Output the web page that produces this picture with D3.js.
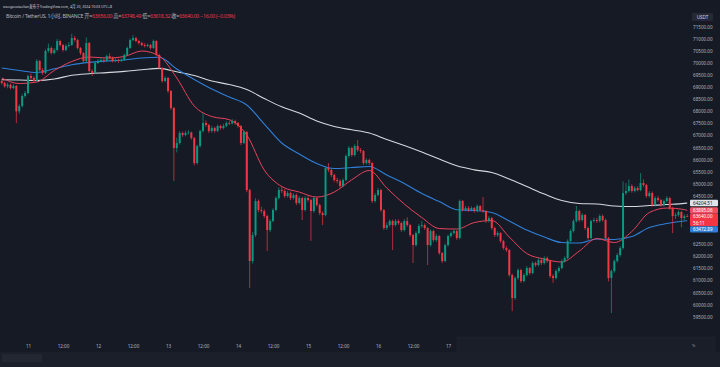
<!DOCTYPE html>
<html>
<head>
<meta charset="utf-8">
<script src="https://cdn.jsdelivr.net/npm/d3@7"></script>
<style>
  body { margin: 0; background: #161a25; }
  svg { display: block; font-family: "Noto Sans", "Noto Sans CJK SC", sans-serif; }
</style>
</head>
<body>
<div id="chart"></div>
<script>
// hourly BTC/USDT candles, first bar Apr 10 15:00 (UTC+8), open = previous close
var startTime = Date.UTC(2024, 3, 10, 15);
var openFirst = 69250;
var closes = [
  69170, 69033, 69099, 68963, 69046, 67998, 68218, 68632, 68756, 69459,
  69377, 69253, 70080, 69708, 69584, 70494, 70618, 70411, 70536, 70908,
  70743, 70536, 70701, 70743, 71032, 70950, 70618, 70411, 70080, 70825,
  69666, 69584, 69998, 70080, 70122, 70080, 70287, 70204, 70080, 70122,
  70080, 70122, 70329, 70618, 70950, 71032, 70908, 70825, 70743, 70701,
  70743, 70618, 70908, 70329, 69791, 69253, 69377, 68839, 68135, 66479,
  66686, 67100, 67017, 67100, 67120, 66893, 65858, 66562, 67183, 67514,
  67431, 67183, 67307, 67183, 67390, 67307, 67390, 67514, 67500, 67597,
  67514, 67390, 66686, 67142, 64741, 61802, 62878, 64286, 63913, 63872,
  63665, 63085, 63458, 63913, 64410, 64741, 64700, 64493, 64617, 64410,
  64534, 64203, 64410, 63913, 64410, 64327, 63872, 64410, 64120, 63789,
  63706, 65652, 65569, 65362, 65155, 65113, 64907, 65155, 66148, 66479,
  66190, 66562, 66397, 66355, 65858, 65983, 65858, 64286, 64534, 64741,
  63913, 63168, 63292, 63458, 63292, 63458, 63375, 63085, 63458, 63292,
  62878, 62464, 62961, 63251, 63292, 63168, 62464, 63044, 62671, 62837,
  62133, 61802, 62464, 62837, 62961, 63044, 62754, 64286, 63913, 63996,
  63913, 63996, 63872, 64079, 63913, 63872, 63458, 63582, 63168, 62878,
  62961, 62630, 62340, 62258, 61223, 60271, 61099, 61430, 60975, 61223,
  61513, 61306, 61719, 61637, 61844, 61719, 61926, 61802, 61181, 61099,
  61388, 61513, 61802, 61926, 62630, 63044, 63458, 63872, 63499, 63706,
  63168, 62754, 63458, 63499, 63458, 63665, 63499, 62754, 61099, 61388,
  61802, 62051, 62340, 64617, 64700, 64907, 64700, 64824, 64741, 65031,
  64948, 64493, 64617, 64120, 64410, 64327, 64120, 64286, 64410, 63996,
  63665, 63706, 63830, 63582, 63656, 63640
];
var highs = [
  69330, 69220, 69180, 69150, 69120, 69090, 68290, 68700, 68840, 69520,
  69560, 69450, 70160, 70120, 69790, 70560, 70800, 70680, 70620, 71000,
  70960, 70790, 70780, 70860, 71210, 71120, 71000, 70660, 70450, 71060,
  70870, 69740, 70080, 70160, 70230, 70190, 70350, 70400, 70260, 70200,
  70180, 70190, 70390, 70680, 71020, 71150, 71080, 70960, 70880, 70820,
  70800, 70790, 70970, 70940, 70380, 69840, 69460, 69420, 68880, 68180,
  66900, 67180, 67160, 67190, 67220, 67160, 66940, 66620, 67240, 67920,
  67620, 67480, 67400, 67360, 67450, 67440, 67480, 67580, 67600, 67680,
  67650, 67560, 67430, 67220, 67190, 64800, 63000, 64400, 64350, 64050,
  63950, 63720, 63540, 63990, 64480, 64850, 64900, 64780, 64700, 64680,
  64610, 64600, 64490, 64460, 64480, 64500, 64380, 64490, 64460, 64180,
  63860, 65720, 65860, 65640, 65420, 65250, 65180, 65220, 66220, 66560,
  66530, 66640, 66810, 66480, 66400, 66060, 66040, 65900, 64620, 64820,
  64790, 63960, 63400, 63530, 63520, 63540, 63520, 63430, 63540, 63620,
  63340, 62920, 63030, 63340, 63460, 63360, 63210, 63120, 63100, 62920,
  62880, 62180, 62530, 62900, 63030, 63120, 63090, 64350, 64330, 64080,
  64070, 64070, 64040, 64150, 64120, 64450, 63920, 63660, 63630, 63220,
  63040, 63000, 62680, 62420, 62300, 61280, 61170, 61500, 61480, 61300,
  61600, 61560, 61790, 61780, 61920, 61900, 62000, 61990, 61850, 61260,
  61460, 61590, 61870, 62000, 62700, 63120, 63530, 64080, 63930, 63780,
  63750, 63220, 63520, 63600, 63580, 63740, 63730, 63560, 62800, 61460,
  61870, 62130, 62420, 65100, 65030, 65180, 64980, 64900, 64900, 65440,
  65180, 65000, 64700, 64680, 64480, 64500, 64380, 64350, 64490, 64460,
  64050, 63800, 63900, 63880, 63740, 63748.49
];
var lows = [
  69100, 68980, 68950, 68900, 68920, 67510, 67900, 68150, 68560, 68700,
  69300, 69180, 69200, 69650, 69500, 69540, 70420, 70350, 70360, 70480,
  70680, 70470, 70480, 70640, 70700, 70880, 70560, 70330, 70000, 70020,
  69600, 69460, 69540, 69950, 70020, 70010, 70040, 70150, 70020, 70030,
  70000, 70040, 70080, 70290, 70580, 70900, 70850, 70760, 70690, 70640,
  70650, 70560, 70580, 70270, 69720, 69180, 69200, 68760, 68060, 65110,
  66300, 66620, 66940, 66960, 67040, 66820, 65760, 65800, 66500, 67120,
  67360, 67100, 67120, 67110, 67140, 67240, 67250, 67340, 67430, 67450,
  67440, 67320, 66600, 66640, 64650, 60680, 61700, 62800, 63820, 63780,
  63580, 62220, 63000, 63400, 63860, 64350, 64620, 64420, 64430, 64330,
  64350, 64120, 64150, 63500, 63860, 64250, 62640, 63800, 64050, 63700,
  63290, 63650, 65480, 65280, 65080, 65020, 64830, 64850, 65100, 66080,
  66120, 66130, 66320, 66270, 65780, 65800, 65780, 64200, 64220, 64480,
  63840, 63090, 63090, 63220, 62260, 63230, 63300, 63010, 63020, 63220,
  62800, 61720, 62400, 62900, 63180, 63090, 61640, 62400, 62590, 62600,
  62060, 61720, 61750, 62400, 62780, 62900, 62680, 62700, 63850, 63860,
  63840, 63860, 63800, 63820, 63850, 63800, 63380, 63400, 63100, 62800,
  62800, 62560, 62270, 62180, 61150, 59730, 60200, 61030, 60900, 60920,
  61160, 61230, 61250, 61560, 61580, 61640, 61660, 61730, 61100, 60900,
  61040, 61320, 61460, 61750, 61880, 62570, 62980, 63400, 63430, 63440,
  63090, 62680, 62700, 63400, 63380, 63400, 63430, 62680, 60960, 59650,
  61320, 61740, 61980, 62280, 64540, 64640, 64630, 64640, 64680, 64690,
  64870, 64420, 64430, 64050, 64060, 64250, 64040, 64060, 64220, 63920,
  62960, 63540, 63640, 63200, 63500, 63618.32
];

// moving averages read every 6 bars, plus the last bar
var maStep = 6;
var maWhite = [69306, 69294, 69273, 69335, 69488, 69555, 69600, 69650, 69716, 69774,
  69633, 69480, 69252, 69108, 68901, 68528, 68185, 67928, 67597, 67369,
  67233, 67100, 66831, 66583, 66314, 66024, 65743, 65577, 65465, 65196,
  64886, 64575, 64306, 64182, 64162, 64079, 64058, 64100, 64141, 64190, 64204.51];
var maBlue = [69791, 69687, 69604, 69757, 69923, 70022, 70080, 70122, 70204, 70233,
  69749, 69315, 68921, 68590, 68259, 67473, 66686, 66231, 65838, 65631,
  65672, 65714, 65362, 65010, 64596, 64265, 63926, 63892, 63810, 63458,
  63085, 62796, 62568, 62547, 62713, 62692, 62816, 63189, 63354, 63462, 63472.89];
var maRed = [69377, 69149, 69211, 69687, 70060, 70246, 70204, 70267, 70494, 70287,
  69377, 68218, 67783, 67651, 67017, 65569, 64886, 64658, 64451, 64658,
  65167, 65548, 64824, 64162, 63603, 63147, 63127, 63396, 63479, 62796,
  62113, 61885, 61761, 62216, 62734, 62568, 63023, 63810, 63996, 63934, 63895.06];

var yTicks = [59500, 60000, 60500, 61000, 61500, 62000, 62500, 63000, 63500, 64000, 64500,
  65000, 65500, 66000, 66500, 67000, 67500, 68000, 68500, 69000, 69500, 70000, 70500, 71000, 71500];
var xTickHours = [0, 12, 24, 36, 48, 60, 72, 84, 96, 108, 120, 132, 144]; // from Apr 11 00:00
var xTickLabels = ["11", "12:00", "12", "12:00", "13", "12:00", "14", "12:00", "15", "12:00", "16", "12:00", "17"];

var headerTitle = "xiaoguoxiaolian发布于TradingView.com, 4月 20, 2024 10:03 UTC+8";
var symbolText = "Bitcoin / TetherUS, 1小时, BINANCE";
var ohlcLabels = ["开", "高", "低", "收"];
var ohlcValues = ["63656.00", "63748.49", "63618.32", "63640.00"];
var changeText = "−16.00 (−0.03%)";
var countdown = "56:11";

var W = 720, H = 367, plotRight = 690;
var up = "#089981", down = "#f23645";
var hour = 3600000;

var svg = d3.select("#chart").append("svg").attr("width", W).attr("height", H);
svg.append("rect").attr("width", W).attr("height", H).attr("fill", "#161a25");

var x = d3.scaleUtc()
  .domain([Date.UTC(2024, 3, 10, 14, 24), Date.UTC(2024, 3, 20, 10, 57)])
  .range([0, plotRight]);
var y = d3.scaleLinear().domain([59500, 71500]).range([316.7, 26.7]);

var candles = closes.map(function(c, i) {
  return { t: new Date(startTime + i * hour), o: i ? closes[i - 1] : openFirst, h: highs[i], l: lows[i], c: c };
});

// moving averages
function maPoints(vals) {
  return vals.map(function(v, k) {
    var idx = k < vals.length - 1 ? k * maStep : closes.length - 1;
    return { t: new Date(startTime + idx * hour), v: v };
  });
}
var line = d3.line().x(function(d) { return x(d.t); }).y(function(d) { return y(d.v); })
  .curve(d3.curveMonotoneX);
var mas = [
  { vals: maWhite, color: "#d6d8de", w: 1.1 },
  { vals: maBlue, color: "#2f7fd8", w: 1.1 },
  { vals: maRed, color: "#e8435c", w: 1 }
];
svg.selectAll("path.ma").data(mas).enter().append("path")
  .attr("class", "ma")
  .attr("d", function(d) { return line(maPoints(d.vals)); })
  .attr("fill", "none")
  .attr("stroke", function(d) { return d.color; })
  .attr("stroke-width", function(d) { return d.w; });

// candles
var cg = svg.append("g");
cg.selectAll("line").data(candles).enter().append("line")
  .attr("x1", function(d) { return x(d.t); })
  .attr("x2", function(d) { return x(d.t); })
  .attr("y1", function(d) { return y(d.h); })
  .attr("y2", function(d) { return y(d.l); })
  .attr("stroke", function(d) { return d.c >= d.o ? up : down; })
  .attr("stroke-width", 0.7);
cg.selectAll("rect").data(candles).enter().append("rect")
  .attr("x", function(d) { return x(d.t) - 1; })
  .attr("width", 2)
  .attr("y", function(d) { return y(Math.max(d.o, d.c)); })
  .attr("height", function(d) { return Math.max(0.7, Math.abs(y(d.o) - y(d.c))); })
  .attr("fill", function(d) { return d.c >= d.o ? up : down; });

// price tags on the right
var tags = [
  { v: maWhite[maWhite.length - 1], bg: "#e0e3eb", fg: "#131722" },
  { v: maRed[maRed.length - 1], bg: "#ee4d63", fg: "#ffffff" },
  { v: closes[closes.length - 1], bg: "#f23645", fg: "#ffffff", extra: countdown },
  { v: maBlue[maBlue.length - 1], bg: "#2f7fd8", fg: "#ffffff" }
];
var tagH = 6.3, prev = -1e9;
tags.forEach(function(t) {
  t.cy = Math.max(y(t.v), prev);
  t.h = t.extra ? tagH * 2 : tagH;
  prev = t.cy + t.h;
});

// y axis labels
var yAxis = d3.axisRight(y).tickValues(yTicks.filter(function(v) {
  return tags.every(function(t) { return y(v) < t.cy - tagH * 0.5 - 2 || y(v) > t.cy + t.h - tagH * 0.5 + 2; });
})).tickFormat(d3.format(".2f")).tickSize(0).tickPadding(3);
var ya = svg.append("g").attr("transform", "translate(" + plotRight + ",0)").call(yAxis);
ya.select(".domain").remove();
ya.selectAll("text").attr("fill", "#b2b5be").attr("font-size", 4.6).attr("font-family", "Noto Sans, sans-serif");

var tg = svg.append("g").selectAll("g").data(tags).enter().append("g");
tg.append("rect")
  .attr("x", plotRight).attr("width", 28)
  .attr("y", function(d) { return d.cy - tagH / 2; })
  .attr("height", function(d) { return d.h; })
  .attr("rx", 1)
  .attr("fill", function(d) { return d.bg; });
tg.append("text")
  .attr("x", plotRight + 3).attr("y", function(d) { return d.cy + 1.6; })
  .attr("font-size", 4.6).attr("fill", function(d) { return d.fg; })
  .text(function(d) { return d3.format(".2f")(d.v); });
tg.filter(function(d) { return d.extra; }).append("text")
  .attr("x", plotRight + 3).attr("y", function(d) { return d.cy + tagH + 1.6; })
  .attr("font-size", 4.6).attr("fill", "#ffffff")
  .text(function(d) { return d.extra; });

// currency box
svg.append("rect").attr("x", 692).attr("y", 13).attr("width", 21).attr("height", 8).attr("rx", 1).attr("fill", "#252935");
svg.append("text").attr("x", 702.5).attr("y", 18.8).attr("text-anchor", "middle")
  .attr("font-size", 4.6).attr("fill", "#d1d4dc").text("USDT");

// x axis
var base = Date.UTC(2024, 3, 11);
var xAxis = d3.axisBottom(x)
  .tickValues(xTickHours.map(function(h) { return new Date(base + h * hour); }))
  .tickFormat(function(d, i) { return xTickLabels[i]; })
  .tickSize(0).tickPadding(0);
var xa = svg.append("g").attr("transform", "translate(0,345)").call(xAxis);
xa.select(".domain").remove();
xa.selectAll("text").attr("fill", "#b2b5be").attr("font-size", 4.6).attr("font-family", "Noto Sans, sans-serif");

// covered part of the time scale and bottom bar
svg.append("rect").attr("x", 457).attr("y", 337).attr("width", 258).attr("height", 15)
  .attr("fill", "#1a1e29").attr("stroke", "#20242f").attr("stroke-width", 0.6);
svg.append("text").attr("x", 692).attr("y", 346.5).attr("font-size", 4).attr("fill", "#9598a1").text("%");
svg.append("rect").attr("x", 0).attr("y", 352).attr("width", W).attr("height", 15).attr("fill", "#1b1f2a");
svg.append("rect").attr("x", 2).attr("y", 354).attr("width", 40).attr("height", 8).attr("fill", "#232732");

// header
svg.append("text").attr("x", 3).attr("y", 7.5).attr("font-size", 4.3)
  .attr("textLength", 109).attr("lengthAdjust", "spacingAndGlyphs")
  .attr("fill", "#d1d4dc").text(headerTitle);
var hdr = svg.append("text").attr("x", 6).attr("y", 17.5).attr("font-size", 5.2)
  .attr("textLength", 229).attr("lengthAdjust", "spacing").attr("fill", "#b2b5be");
hdr.append("tspan").text(symbolText + "   ");
ohlcLabels.forEach(function(l, i) {
  hdr.append("tspan").attr("fill", "#b2b5be").text("  " + l + "=");
  hdr.append("tspan").attr("fill", down).text(ohlcValues[i]);
});
hdr.append("tspan").attr("fill", down).text("   " + changeText);
</script>
</body>
</html>
